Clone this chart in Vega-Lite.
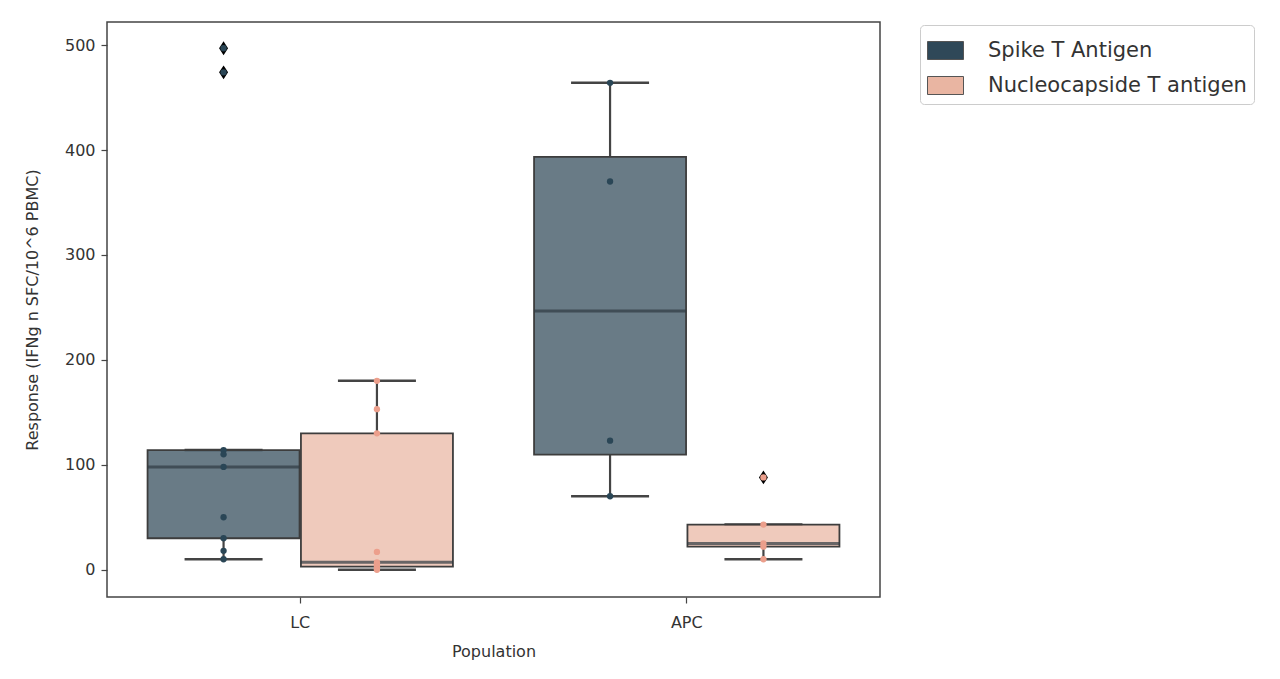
{
  "$schema": "https://vega.github.io/schema/vega-lite/v6.json",
  "description": "IFNg T cell response by population and antigen",
  "autosize": "none",
  "padding": {"left": 107, "top": 22, "right": 400, "bottom": 82},
  "width": 773,
  "height": 575,
  "background": "white",
  "config": {
    "font": "DejaVu Sans",
    "view": {"stroke": "#444444", "strokeWidth": 1.5},
    "axis": {
      "labelFontSize": 16,
      "titleFontSize": 16,
      "titleFontWeight": "normal",
      "labelColor": "#333333",
      "titleColor": "#333333",
      "domain": false,
      "grid": false,
      "tickColor": "#444444",
      "tickSize": 6,
      "tickWidth": 1.2
    }
  },
  "data": {
    "values": [
      {"Population": "LC", "Antigen": "Spike T Antigen", "Response": 497},
      {"Population": "LC", "Antigen": "Spike T Antigen", "Response": 474},
      {"Population": "LC", "Antigen": "Spike T Antigen", "Response": 114},
      {"Population": "LC", "Antigen": "Spike T Antigen", "Response": 110},
      {"Population": "LC", "Antigen": "Spike T Antigen", "Response": 98},
      {"Population": "LC", "Antigen": "Spike T Antigen", "Response": 50},
      {"Population": "LC", "Antigen": "Spike T Antigen", "Response": 30},
      {"Population": "LC", "Antigen": "Spike T Antigen", "Response": 18},
      {"Population": "LC", "Antigen": "Spike T Antigen", "Response": 10},
      {"Population": "LC", "Antigen": "Nucleocapside T antigen", "Response": 180},
      {"Population": "LC", "Antigen": "Nucleocapside T antigen", "Response": 153},
      {"Population": "LC", "Antigen": "Nucleocapside T antigen", "Response": 130},
      {"Population": "LC", "Antigen": "Nucleocapside T antigen", "Response": 17},
      {"Population": "LC", "Antigen": "Nucleocapside T antigen", "Response": 7},
      {"Population": "LC", "Antigen": "Nucleocapside T antigen", "Response": 5},
      {"Population": "LC", "Antigen": "Nucleocapside T antigen", "Response": 3},
      {"Population": "LC", "Antigen": "Nucleocapside T antigen", "Response": 1},
      {"Population": "LC", "Antigen": "Nucleocapside T antigen", "Response": 0},
      {"Population": "APC", "Antigen": "Spike T Antigen", "Response": 464},
      {"Population": "APC", "Antigen": "Spike T Antigen", "Response": 370},
      {"Population": "APC", "Antigen": "Spike T Antigen", "Response": 123},
      {"Population": "APC", "Antigen": "Spike T Antigen", "Response": 70},
      {"Population": "APC", "Antigen": "Nucleocapside T antigen", "Response": 88},
      {"Population": "APC", "Antigen": "Nucleocapside T antigen", "Response": 43},
      {"Population": "APC", "Antigen": "Nucleocapside T antigen", "Response": 25},
      {"Population": "APC", "Antigen": "Nucleocapside T antigen", "Response": 22},
      {"Population": "APC", "Antigen": "Nucleocapside T antigen", "Response": 10}
    ]
  },
  "encoding": {
    "x": {
      "field": "Population",
      "type": "nominal",
      "sort": ["LC", "APC"],
      "scale": {"paddingInner": 0, "paddingOuter": 0},
      "axis": {"labelAngle": 0, "labelPadding": 11, "titlePadding": 13}
    },
    "xOffset": {
      "field": "Antigen",
      "type": "nominal",
      "sort": ["Spike T Antigen", "Nucleocapside T antigen"],
      "scale": {"paddingInner": 0, "paddingOuter": 0.26}
    },
    "y": {
      "field": "Response",
      "type": "quantitative",
      "title": "Response (IFNg n SFC/10^6 PBMC)",
      "scale": {"domain": [-26, 522], "nice": false, "zero": false},
      "axis": {"values": [0, 100, 200, 300, 400, 500], "labelPadding": 6, "titlePadding": 24}
    }
  },
  "layer": [
    {
      "mark": {
        "type": "boxplot",
        "extent": 1.5,
        "size": 152,
        "box": {"stroke": "#3d3d3d", "strokeWidth": 1.8, "fillOpacity": 0.72},
        "median": {"color": "#2f3b42", "thickness": 3},
        "rule": {"color": "#444444", "strokeWidth": 2.2},
        "ticks": {"color": "#444444", "size": 78, "thickness": 2.5},
        "outliers": {"shape": "M0,-1L0.65,0L0,1L-0.65,0Z", "stroke": "black", "strokeWidth": 3, "filled": true, "size": 70, "opacity": 1}
      },
      "encoding": {
        "color": {
          "field": "Antigen",
          "type": "nominal",
          "sort": ["Spike T Antigen", "Nucleocapside T antigen"],
          "scale": {"range": ["#2f4858", "#e9b5a2"]},
          "legend": {
            "title": null,
            "orient": "none",
            "legendX": 813,
            "legendY": 3,
            "labelFontSize": 21,
            "labelLimit": 400,
            "labelColor": "#333333",
            "symbolType": "M-1,-0.5H1V0.5H-1Z",
            "symbolSize": 1296,
            "symbolStrokeColor": "#555555",
            "symbolStrokeWidth": 1,
            "symbolOpacity": 1,
            "rowPadding": 5,
            "labelOffset": 24,
            "padding": 7,
            "strokeColor": "#cccccc",
            "fillColor": "white",
            "cornerRadius": 4
          }
        }
      }
    },
    {
      "mark": {"type": "circle", "size": 40, "opacity": 1},
      "encoding": {
        "fill": {
          "field": "Antigen",
          "type": "nominal",
          "sort": ["Spike T Antigen", "Nucleocapside T antigen"],
          "scale": {"range": ["#2a4656", "#ec9f8c"]},
          "legend": null
        }
      }
    }
  ]
}
